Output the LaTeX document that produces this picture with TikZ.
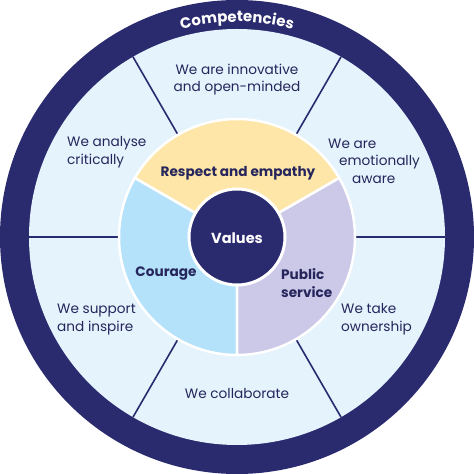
\documentclass[tikz,border=0pt]{standalone}
\usepackage{fontspec}
\setmainfont{Poppins}
\usetikzlibrary{decorations.text}
\definecolor{Navy}{RGB}{42, 42, 110}
\definecolor{Ink}{RGB}{38, 38, 92}
\definecolor{Pale}{RGB}{228, 243, 252}
\definecolor{Sun}{RGB}{253, 230, 168}
\definecolor{Sky}{RGB}{180, 226, 250}
\definecolor{Lilac}{RGB}{204, 200, 232}

\tikzset{
  comp/.style={text=Ink,inner sep=0pt,font=\fontsize{13.7}{17.7}\selectfont},
  value/.style={text=Ink,inner sep=0pt,font=\bfseries\fontsize{13.7}{17.7}\selectfont},
  sector/.style={draw=white,line width=2.5bp},
}

\begin{document}
\begin{tikzpicture}[x=1bp,y=1bp]
        \useasboundingbox (-237,-237) rectangle (237,237);
        \fill[Navy] (0,0) circle[radius=237];
        \fill[Pale] (0,0) circle[radius=208];
        \foreach \a in {0,60,...,300} {
          \draw[Navy,line width=1.6bp] (\a:119) -- (\a:208);
        }
        % ring title
        \path[decorate,decoration={text along path,text align=center,
          text={|\color{white}\bfseries\fontsize{15}{16}\selectfont|Competencies}}]
          (160:215) arc[start angle=160,end angle=20,radius=215];
        % values ring
        \filldraw[sector,fill=Sun] (0,0) -- (30:118) arc[start angle=30,end angle=150,radius=118] -- cycle;
        \filldraw[sector,fill=Sky] (0,0) -- (150:118) arc[start angle=150,end angle=270,radius=118] -- cycle;
        \filldraw[sector,fill=Lilac] (0,0) -- (270:118) arc[start angle=270,end angle=390,radius=118] -- cycle;
        \filldraw[fill=Navy,draw=white,line width=3bp] (0,0) circle[radius=48];
        \node[text=white,font=\bfseries\fontsize{14.6}{17}\selectfont] (values) at (0,-1) {Values};
        \node[value] (respect) at (1,64) {Respect and empathy};
        \node[value] (courage) at (-71,-37) {Courage};
        \node[value,anchor=west,align=left] (public) at (44,-46) {Public\\service};
        % competencies
        \node[comp,align=center] (innovative) at (0,157.5) {We are innovative\\and open-minded};
        \node[comp,anchor=west,align=left] (analyse) at (-170,84.5) {We analyse\\critically};
        \node[comp,anchor=west,align=left] (aware) at (91,76) {We are\\\hspace{11bp}emotionally\\\hspace{24bp}aware};
        \node[comp,anchor=west,align=left] (support) at (-180,-82.5) {We support\\and inspire};
        \node[comp,anchor=west,align=left] (ownership) at (104,-82.5) {We take\\ownership};
        \node[comp] (collaborate) at (0,-157) {We collaborate};
      \end{tikzpicture}
\end{document}
